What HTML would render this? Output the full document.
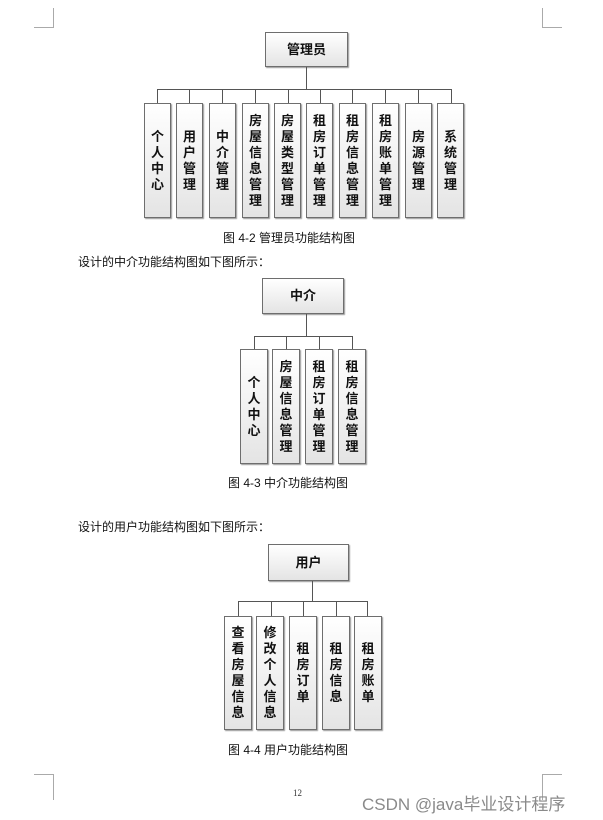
<!DOCTYPE html>
<html><head><meta charset="utf-8"><style>
body{margin:0;width:603px;height:820px;background:#fff;position:relative;overflow:hidden;font-family:"Liberation Sans","Noto Sans CJK SC",sans-serif}
.a{position:absolute}
.b{position:absolute;box-sizing:border-box;border:1px solid #6e6e6e;background:linear-gradient(to bottom,#ffffff,#e4e4e4);box-shadow:1px 1px 1px #999;display:flex;align-items:center;justify-content:center;text-align:center;font-weight:bold;font-size:13px;line-height:16px;color:#111}
.l{position:absolute;background:#555}
.t{position:absolute;font-size:12px;color:#111;white-space:nowrap;font-family:"Liberation Sans","Noto Sans CJK SC",sans-serif}
.c{position:absolute;background:#aaa}
</style></head><body>
<!-- corner marks -->
<div class="c" style="left:53px;top:8px;width:1px;height:20px"></div>
<div class="c" style="left:34px;top:27px;width:20px;height:1px"></div>
<div class="c" style="left:542px;top:8px;width:1px;height:20px"></div>
<div class="c" style="left:542px;top:27px;width:20px;height:1px"></div>
<div class="c" style="left:53px;top:774px;width:1px;height:26px"></div>
<div class="c" style="left:34px;top:774px;width:20px;height:1px"></div>
<div class="c" style="left:542px;top:774px;width:1px;height:26px"></div>
<div class="c" style="left:542px;top:774px;width:20px;height:1px"></div>

<!-- diagram 1 -->
<div class="b" style="left:265px;top:32px;width:83px;height:35px">管理员</div>
<div class="l" style="left:306px;top:67px;width:1px;height:22px"></div>
<div class="l" style="left:157px;top:89px;width:295px;height:1px"></div>
<div class="l" style="left:157px;top:89px;width:1px;height:14px"></div>
<div class="l" style="left:189px;top:89px;width:1px;height:14px"></div>
<div class="l" style="left:222px;top:89px;width:1px;height:14px"></div>
<div class="l" style="left:255px;top:89px;width:1px;height:14px"></div>
<div class="l" style="left:288px;top:89px;width:1px;height:14px"></div>
<div class="l" style="left:320px;top:89px;width:1px;height:14px"></div>
<div class="l" style="left:352px;top:89px;width:1px;height:14px"></div>
<div class="l" style="left:385px;top:89px;width:1px;height:14px"></div>
<div class="l" style="left:418px;top:89px;width:1px;height:14px"></div>
<div class="l" style="left:451px;top:89px;width:1px;height:14px"></div>
<div class="b" style="left:144px;top:103px;width:27px;height:115px">个<br>人<br>中<br>心</div>
<div class="b" style="left:176px;top:103px;width:27px;height:115px">用<br>户<br>管<br>理</div>
<div class="b" style="left:209px;top:103px;width:27px;height:115px">中<br>介<br>管<br>理</div>
<div class="b" style="left:242px;top:103px;width:27px;height:115px">房<br>屋<br>信<br>息<br>管<br>理</div>
<div class="b" style="left:274px;top:103px;width:27px;height:115px">房<br>屋<br>类<br>型<br>管<br>理</div>
<div class="b" style="left:306px;top:103px;width:27px;height:115px">租<br>房<br>订<br>单<br>管<br>理</div>
<div class="b" style="left:339px;top:103px;width:27px;height:115px">租<br>房<br>信<br>息<br>管<br>理</div>
<div class="b" style="left:372px;top:103px;width:27px;height:115px">租<br>房<br>账<br>单<br>管<br>理</div>
<div class="b" style="left:405px;top:103px;width:27px;height:115px">房<br>源<br>管<br>理</div>
<div class="b" style="left:437px;top:103px;width:27px;height:115px">系<br>统<br>管<br>理</div>
<div class="t" style="left:223px;top:229px">图 4-2 管理员功能结构图</div>
<div class="t" style="left:78px;top:253px">设计的中介功能结构图如下图所示：</div>

<!-- diagram 2 -->
<div class="b" style="left:262px;top:278px;width:82px;height:36px">中介</div>
<div class="l" style="left:306px;top:314px;width:1px;height:22px"></div>
<div class="l" style="left:254px;top:336px;width:99px;height:1px"></div>
<div class="l" style="left:254px;top:336px;width:1px;height:13px"></div>
<div class="l" style="left:286px;top:336px;width:1px;height:13px"></div>
<div class="l" style="left:319px;top:336px;width:1px;height:13px"></div>
<div class="l" style="left:352px;top:336px;width:1px;height:13px"></div>
<div class="b" style="left:240px;top:349px;width:28px;height:115px">个<br>人<br>中<br>心</div>
<div class="b" style="left:272px;top:349px;width:28px;height:115px">房<br>屋<br>信<br>息<br>管<br>理</div>
<div class="b" style="left:305px;top:349px;width:28px;height:115px">租<br>房<br>订<br>单<br>管<br>理</div>
<div class="b" style="left:338px;top:349px;width:28px;height:115px">租<br>房<br>信<br>息<br>管<br>理</div>
<div class="t" style="left:228px;top:474px">图 4-3 中介功能结构图</div>
<div class="t" style="left:78px;top:518px">设计的用户功能结构图如下图所示：</div>

<!-- diagram 3 -->
<div class="b" style="left:268px;top:544px;width:81px;height:37px">用户</div>
<div class="l" style="left:312px;top:581px;width:1px;height:20px"></div>
<div class="l" style="left:238px;top:601px;width:130px;height:1px"></div>
<div class="l" style="left:238px;top:601px;width:1px;height:15px"></div>
<div class="l" style="left:271px;top:601px;width:1px;height:15px"></div>
<div class="l" style="left:303px;top:601px;width:1px;height:15px"></div>
<div class="l" style="left:336px;top:601px;width:1px;height:15px"></div>
<div class="l" style="left:367px;top:601px;width:1px;height:15px"></div>
<div class="b" style="left:224px;top:616px;width:28px;height:114px">查<br>看<br>房<br>屋<br>信<br>息</div>
<div class="b" style="left:256px;top:616px;width:28px;height:114px">修<br>改<br>个<br>人<br>信<br>息</div>
<div class="b" style="left:289px;top:616px;width:28px;height:114px">租<br>房<br>订<br>单</div>
<div class="b" style="left:322px;top:616px;width:28px;height:114px">租<br>房<br>信<br>息</div>
<div class="b" style="left:354px;top:616px;width:28px;height:114px">租<br>房<br>账<br>单</div>
<div class="t" style="left:228px;top:741px">图 4-4 用户功能结构图</div>

<div class="a" style="left:293px;top:788px;font-size:9px;font-family:'Liberation Serif',serif;color:#333">12</div>
<div class="a" style="left:362px;top:790px;font-size:17px;color:#8a8a8a;white-space:nowrap">CSDN @java毕业设计程序</div>
</body></html>
